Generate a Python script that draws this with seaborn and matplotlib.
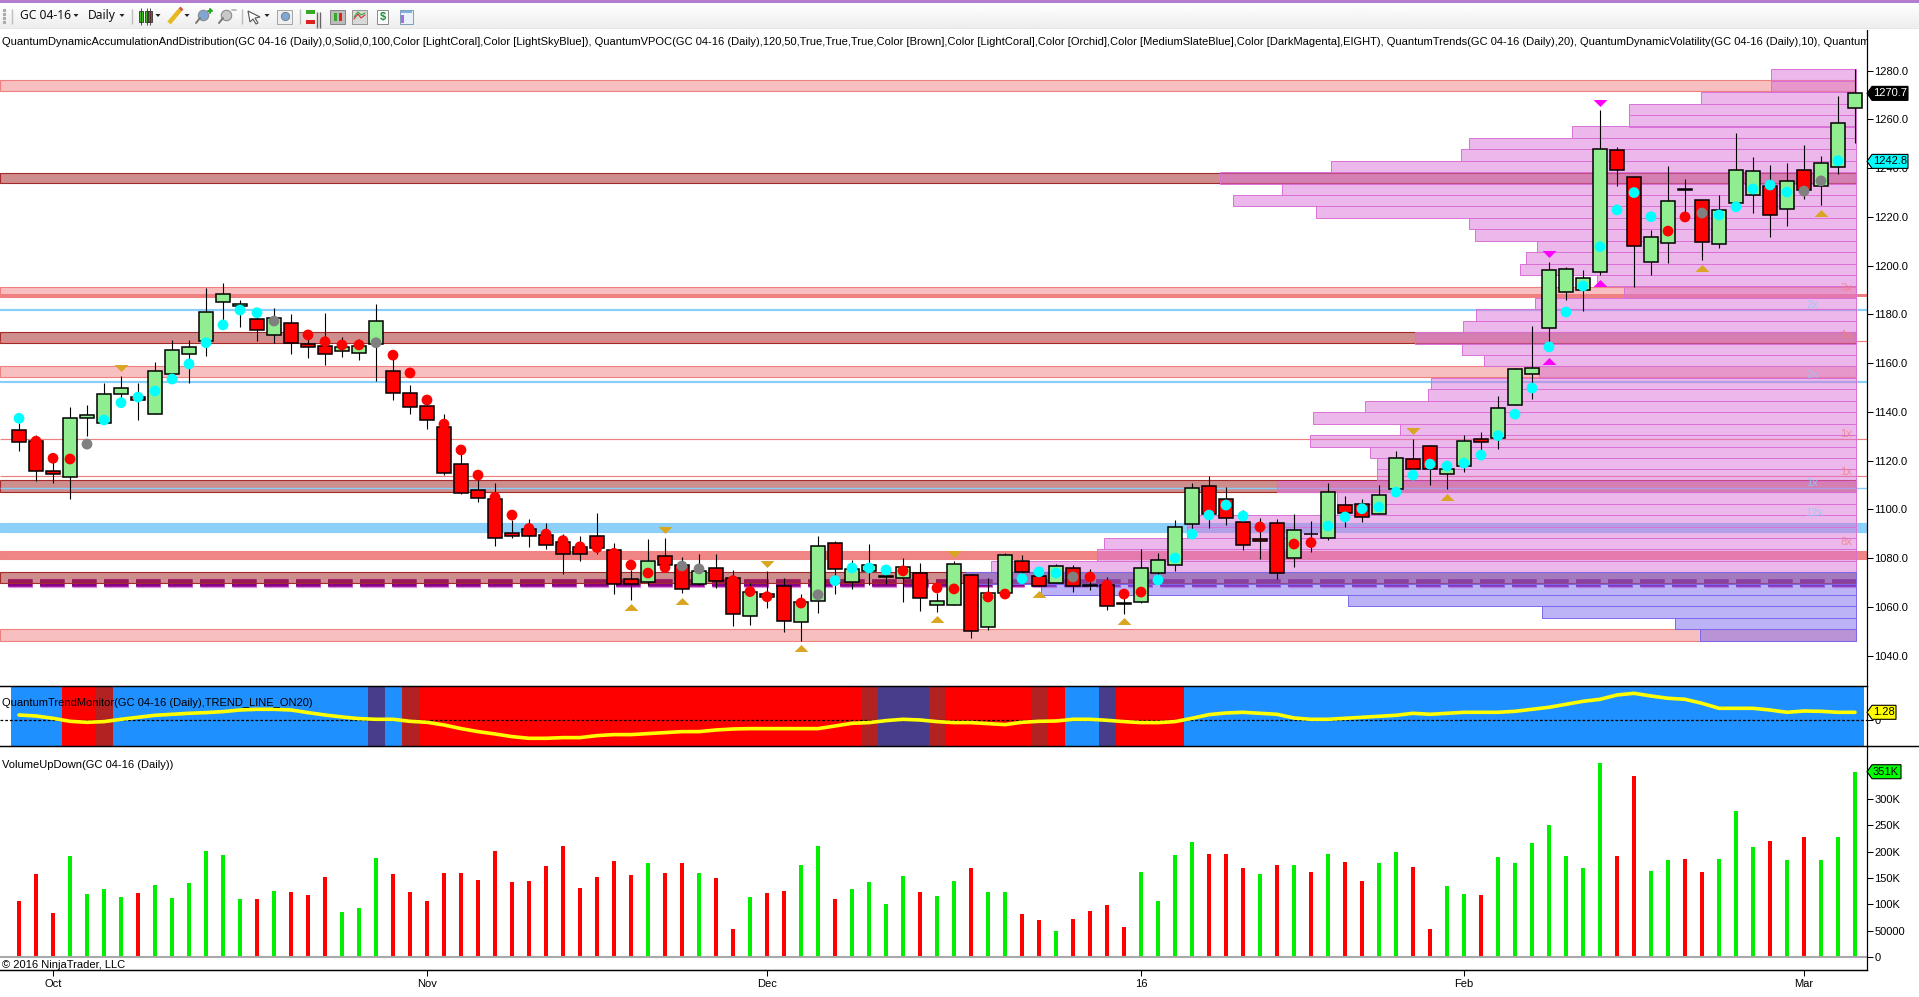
import numpy as np
import pandas as pd
import matplotlib
matplotlib.use("Agg")
import matplotlib.pyplot as plt
from matplotlib.patches import Polygon, Rectangle
import seaborn as sns

# ---------- data ----------
opens = [1132.4,1127.9,1115.6,1113.4,1137.6,1135.6,1147.5,1146.0,1139.0,1155.7,1163.6,1169.0,1185.0,1183.3,1178.0,1171.4,1176.4,1167.9,1167.0,1164.9,
 1164.0,1167.7,1157.0,1147.6,1142.3,1133.7,1118.5,1107.8,1104.1,1090.2,1091.8,1089.4,1086.5,1084.4,1089.0,1083.2,1071.3,1070.1,1080.8,1077.4,
 1069.6,1075.9,1071.8,1056.4,1065.2,1068.5,1054.0,1062.6,1086.1,1070.4,1074.9,1072.7,1072.0,1073.8,1060.7,1061.0,1073.0,1051.9,1065.9,1078.7,
 1072.6,1070.0,1075.9,1069.0,1069.0,1061.5,1062.2,1074.1,1077.4,1094.2,1109.5,1104.2,1094.7,1087.8,1094.3,1080.0,1089.9,1088.1,1101.7,1102.1,
 1098.3,1108.5,1120.6,1125.9,1114.7,1118.0,1128.8,1129.4,1142.7,1155.7,1174.3,1189.4,1189.9,1197.6,1247.3,1236.3,1201.7,1209.5,1231.3,1226.8,
 1209.0,1225.9,1228.9,1232.6,1223.1,1239.1,1232.6,1240.6,1264.6]
highs = [1135.3,1130.5,1119.6,1141.9,1142.8,1151.9,1154.6,1151.9,1160.3,1169.5,1169.5,1190.7,1192.8,1185.9,1181.0,1182.5,1180.2,1172.0,1180.4,1170.6,
 1169.8,1184.3,1163.0,1151.0,1144.9,1139.0,1123.0,1112.8,1110.7,1095.7,1096.0,1094.4,1089.9,1089.1,1098.4,1086.1,1075.0,1087.9,1088.3,1080.6,
 1081.7,1081.7,1075.0,1069.7,1074.8,1071.8,1065.2,1089.1,1087.0,1079.1,1085.8,1076.5,1080.1,1078.0,1065.6,1078.9,1073.5,1071.8,1082.1,1081.2,
 1075.0,1077.6,1077.2,1075.6,1072.3,1067.0,1083.8,1082.1,1095.7,1110.9,1113.6,1109.2,1099.6,1096.4,1096.1,1098.0,1095.3,1110.7,1105.5,1104.1,
 1110.0,1124.0,1128.9,1126.4,1120.0,1130.4,1131.6,1146.4,1157.9,1175.3,1201.5,1199.3,1198.2,1263.9,1248.7,1236.3,1214.7,1240.9,1235.6,1226.8,
 1229.0,1254.3,1244.6,1241.2,1242.1,1249.5,1245.0,1269.6,1280.6]
lows = [1124.0,1111.8,1111.0,1104.4,1130.1,1135.6,1143.0,1136.7,1139.0,1153.0,1152.0,1163.0,1177.5,1175.0,1169.2,1168.1,1163.8,1162.1,1159.2,1162.7,
 1161.3,1152.8,1144.9,1139.1,1133.0,1114.1,1106.3,1103.0,1085.1,1088.3,1084.7,1083.8,1073.6,1079.0,1081.6,1065.4,1063.0,1069.0,1075.8,1065.8,
 1069.0,1067.8,1052.0,1052.7,1059.4,1049.9,1046.2,1057.7,1065.5,1067.4,1069.0,1069.4,1062.2,1058.5,1057.9,1061.0,1047.4,1050.6,1065.9,1070.4,
 1068.7,1070.0,1066.1,1067.0,1058.8,1057.3,1061.8,1069.7,1074.9,1088.8,1092.5,1093.6,1083.4,1079.7,1071.5,1076.4,1082.7,1087.5,1092.9,1094.8,
 1098.3,1108.5,1112.8,1110.0,1108.5,1115.5,1123.7,1124.8,1142.7,1145.3,1166.8,1185.9,1181.6,1196.2,1232.7,1191.3,1196.2,1201.1,1221.5,1202.4,
 1207.3,1225.9,1221.6,1211.9,1216.3,1227.5,1224.9,1237.8,1250.2]
closes = [1127.8,1115.9,1114.7,1137.4,1138.6,1147.2,1149.7,1145.0,1156.6,1165.4,1166.5,1180.9,1188.2,1184.1,1173.8,1178.4,1168.1,1166.8,1163.6,1166.8,
 1167.0,1177.2,1147.9,1142.2,1136.8,1115.1,1106.9,1104.8,1088.4,1089.0,1089.2,1085.5,1081.8,1081.8,1084.2,1069.5,1069.5,1078.7,1077.3,1067.5,
 1074.6,1070.8,1057.3,1066.0,1064.2,1054.4,1061.9,1084.9,1075.7,1075.7,1077.1,1072.4,1076.3,1063.8,1062.3,1077.5,1050.3,1065.6,1081.2,1074.5,
 1068.7,1076.7,1068.7,1068.7,1060.5,1061.1,1075.9,1079.1,1092.7,1108.7,1098.0,1096.6,1085.6,1087.2,1074.1,1091.4,1089.8,1107.0,1098.7,1097.0,
 1105.8,1121.0,1116.4,1116.4,1116.4,1127.9,1127.5,1141.5,1157.5,1157.9,1198.1,1198.5,1194.8,1247.8,1239.4,1208.2,1211.7,1226.4,1231.0,1209.9,
 1222.7,1239.1,1238.7,1220.7,1234.6,1230.9,1242.0,1258.4,1270.7]

dot_price = [1137.4,1128.0,1121.0,1120.7,1126.8,1136.7,1143.8,1146.1,1148.6,1153.5,1159.7,1168.4,1175.7,1181.8,1180.7,1177.3,None,1171.6,1168.8,1167.5,
 1167.5,1168.4,1163.3,1156.0,1144.9,1135.0,1124.4,1114.1,1105.0,1097.7,1092.2,1089.9,1087.2,1084.7,1084.4,1082.0,1077.2,1073.9,1076.2,1076.8,
 1075.6,None,1070.8,1066.3,1064.2,None,1061.6,1065.0,1070.8,1076.0,1076.0,1075.2,1074.8,None,1067.8,1067.4,None,1064.1,1065.3,1071.6,
 1074.4,1073.9,1072.3,1072.3,1069.0,1065.3,1066.1,1071.1,1080.1,1089.9,1097.7,1101.8,1097.3,1092.8,None,1085.8,1086.4,1093.2,1096.9,1100.3,
 1101.0,1107.1,1114.1,1118.6,1117.8,1119.0,1122.3,1130.3,1139.1,1149.8,1166.7,1181.0,1191.7,1207.8,1222.9,1230.0,1220.1,1214.2,1220.0,1221.6,
 1220.8,1224.2,1231.5,1233.1,1230.2,1230.6,1234.8,1243.1,None]
dot_kind = ["cyan","red","red","red","gray","cyan","cyan","cyan","cyan","cyan","cyan","cyan","cyan","cyan","cyan","gray","none","red","red","red",
 "red","gray","red","red","red","red","red","red","red","red","red","red","red","red","red","red","red","red","red","gray",
 "gray","none","red","red","red","none","red","gray","cyan","cyan","cyan","cyan","red","none","red","red","none","red","red","cyan",
 "cyan","cyan","gray","red","red","red","red","cyan","cyan","cyan","cyan","cyan","cyan","red","none","red","red","cyan","cyan","cyan",
 "cyan","cyan","cyan","cyan","cyan","cyan","cyan","cyan","cyan","cyan","cyan","cyan","cyan","cyan","cyan","cyan","cyan","red","red","gray",
 "cyan","cyan","cyan","cyan","cyan","gray","gray","cyan","none"]

gold_down_bar = [6, 38, 44, 55, 82]
gold_down_price = [1157.9, 1091.4, 1077.8, 1081.9, 1132.0]
gold_up_bar = [36, 39, 46, 54, 60, 65, 84, 99, 106]
gold_up_price = [1059.8, 1062.6, 1043.0, 1055.0, 1065.2, 1054.1, 1105.2, 1199.2, 1221.8]
magenta_down_bar = [90, 93]
magenta_down_price = [1204.7, 1266.9]
magenta_up_bar = [90, 93]
magenta_up_price = [1161.1, 1193.0]

volume_k = [106.6,157.6,84,192,120,129,114,122,137,112,141,201,194,110,110,125,124,118,152,86,93,188,158,124,107,160,160,146,201,142,144,173,211,131,152,182,156,178,160,178,160,150,54,114,122,125,175,211,110,129,142,101,154,124,116,144,
 169,124,124,82,71,50,72.5,88,99,57,161,107,194,218,195,195,169,158,175,175,161,195,180,144,178,199,171,54,135,120,118,190,178,216,250,192,169,368,192,343,163,184,186,161,186,277,209,220,184,228,184,228,351]
volume_side = list("RRRGGGGRGGGGGGRGRRRGGG" "RRRRRRRRRRRRRRR" "GRRGRRGRRGGRGGGGRGG"
                   "RGGRRGRRRR" "GGGGRRRGRG" "RGRRGGRRGG" "RGGGGGGGRR" "GGRRGGGRGR" "GGG")
volume_ticks = [0, 50, 100, 150, 200, 250, 300]
volume_tick_labels = ["0", "50000", "100K", "150K", "200K", "250K", "300K"]

trend_value = [.85,.69,.32,-.16,-.32,-.21,.16,.48,.8,.96,1.12,1.23,1.39,1.65,1.76,1.76,1.65,1.23,.85,.53,.27,.16,.16,-.16,-.32,-.75,-1.33,-1.81,-2.19,-2.61,-2.88,-2.88,-2.77,-2.77,-2.45,-2.29,-2.29,-2.13,-1.97,-1.81,-1.81,-1.55,-1.39,-1.33,-1.33,-1.33,-1.33,-1.33,-.91,-.48,-.37,-.05,.16,.05,-.21,-.37,
 -.37,-.53,-.69,-.32,-.16,-.11,.16,.16,0,-.21,-.37,-.37,-.21,.32,.91,1.17,1.28,1.12,.96,.37,.16,.16,.32,.48,.64,.8,1.12,.96,1.12,1.28,1.28,1.28,1.44,1.76,2.08,2.56,3.04,3.36,4.05,4.32,3.89,3.52,3.36,2.72,1.92,1.92,1.92,1.65,1.28,1.49,1.44,1.28,1.28]
trend_state = ("BBBRRK" + "B"*15 + "SBK" + "R"*26 + "K" + "SSS" + "K" + "R"*5 + "K" + "R" + "BB" + "S" + "RRRR" + "B"*40)

profile_top = [1280.6,1275.9,1271.2,1266.5,1261.8,1257.2,1252.5,1247.8,1243.1,1238.4,1233.7,1229.0,1224.3,1219.6,1214.9,1210.3,1205.6,1200.9,1196.2,1191.5,1186.8,1182.1,1177.4,1172.7,1168.0,1163.4,1158.7,1154.0,1149.3,1144.6,1139.9,1135.2,1130.5,1125.8,1121.1,1116.5,1111.8,1107.1,1102.4,1097.7,1093.0,1088.3,1083.6,1078.9,1074.2,1069.6,1064.9,1060.2,1055.5,1050.8]
profile_left = [103.08,103.08,98.97,94.68,94.68,91.38,85.27,84.85,77.2,70.65,74.3,71.4,76.3,85.27,85.66,89.3,88.66,88.3,92.84,94.44,89.15,85.73,84.96,82.1,84.9,86.2,89.4,83.03,82.9,79.15,76.1,81.26,75.97,79.45,79.9,79.9,74.0,77.5,77.5,68.7,68.7,63.8,63.4,57.2,55.7,60.1,78.15,89.6,97.4,98.9]
profile_kind = ["orchid"]*44 + ["slate"]*6

band_top = [1276.0,1238.2,1191.4,1172.7,1158.7,1111.9,1074.2,1050.8]
band_bottom = [1271.5,1233.8,1187.0,1168.1,1154.2,1107.0,1069.7,1046.1]
band_kind = ["coral","brown","coral","brown","coral","brown","brown","coral"]
wide_top = [1094.6, 1083.1]
wide_bottom = [1090.6, 1079.8]
wide_color = ["#87CEFA", "#F08080"]
thin_price = [1188.15,1181.7,1169.2,1152.1,1128.8,1113.6,1108.6]
thin_color = ["#F08080","#87CEFA","#F08080","#87CEFA","#F08080","#F08080","#87CEFA"]
thin_width = [3.0,2.2,1.2,2.2,1.2,1.2,1.4]
dash_price = 1069.65
zone_text = ["3x","2x","1x","2x","1x","1x","1x","12x","8x"]
zone_bar = [107.5,105.5,107.5,105.5,107.5,107.5,105.5,105.6,107.5]
zone_price = [1191,1184,1171.4,1155.2,1131,1115.5,1110.7,1098.7,1086.5]
zone_color = ["#F08080","#87CEFA","#F08080","#87CEFA","#F08080","#F08080","#87CEFA","#87CEFA","#F08080"]

month_bar = [2, 24, 44, 66, 85, 105]
month_label = ["Oct", "Nov", "Dec", "16", "Feb", "Mar"]
price_ticks = [1040,1060,1080,1100,1120,1140,1160,1180,1200,1220,1240,1260,1280]
last_price = 1270.7
last_dot_price = 1242.8
last_trend = 1.28
last_volume = 351

header = ("QuantumDynamicAccumulationAndDistribution(GC 04-16 (Daily),0,Solid,0,100,Color [LightCoral],Color [LightSkyBlue]), "
          "QuantumVPOC(GC 04-16 (Daily),120,50,True,True,True,Color [Brown],Color [LightCoral],Color [Orchid],Color [MediumSlateBlue],Color [DarkMagenta],EIGHT), "
          "QuantumTrends(GC 04-16 (Daily),20), QuantumDynamicVolatility(GC 04-16 (Daily),10), Quantum")

# ---------- style ----------
sns.set_theme(style="white")
plt.rcParams["font.family"] = ["Liberation Sans", "DejaVu Sans"]
plt.rcParams["lines.scale_dashes"] = False
plt.rcParams["font.size"] = 8

W, H = 1919, 997
fig = plt.figure(figsize=(W/100, H/100), dpi=100, facecolor="white")
RIGHT = 1866.5
def axes_px(top, bottom):
    return fig.add_axes([0, 1-bottom/H, RIGHT/W, (bottom-top)/H])
ax = axes_px(30, 685.5)
ax_t = axes_px(685.5, 746)
ax_v = axes_px(746, 970)

bars = np.arange(len(opens))
XMIN, XMAX = (0-19)/17.0, (RIGHT-19)/17.0
BAR_END = 108.03
for a in (ax, ax_t, ax_v):
    a.set_xlim(XMIN, XMAX)
    a.yaxis.tick_right()
    a.tick_params(axis="y", length=4.3, width=.75, pad=1.5, labelsize=8, colors="black", right=True, left=False)
    a.tick_params(axis="x", length=0)
    a.set_xticks([])
    for s in a.spines.values():
        s.set_color("black"); s.set_linewidth(1.05)
    a.spines["left"].set_visible(False)
    a.spines["bottom"].set_visible(False)
    a.spines["right"].set_linewidth(.8)
ax.spines["top"].set_visible(False)

# ---------- main price panel ----------
ax.set_ylim(1280-(685.5-70.7)/2.4375, 1280+(70.7-30)/2.4375)
ax.set_yticks(price_ticks)
ax.set_yticklabels([f"{p:.1f}" for p in price_ticks])

ax.plot([(7.6-19)/17.0, BAR_END], [dash_price]*2, color="#DA70D6", lw=6.6, alpha=.8,
        ls=(0,(17.64,5.4)), dash_capstyle="butt", zorder=1)
ax.plot([(7.6-19)/17.0, BAR_END], [dash_price]*2, color="#8B008B", lw=5.4,
        ls=(0,(17.64,5.4)), dash_capstyle="butt", zorder=1.1)

band_style = {"coral": ((0.941,0.502,0.502,0.5), "#F08080"), "brown": ((0.647,0.165,0.165,0.53), "#A52A2A")}
for t, b, k in zip(band_top, band_bottom, band_kind):
    f, e = band_style[k]
    ax.barh((t+b)/2, BAR_END-XMIN, height=t-b, left=XMIN, color=f, edgecolor=e, linewidth=.8, zorder=2)
for t, b, c in zip(wide_top, wide_bottom, wide_color):
    ax.barh((t+b)/2, XMAX-XMIN, height=t-b, left=XMIN, color=c, edgecolor=c, alpha=.95, linewidth=.8, zorder=2)
for p, c, w in zip(thin_price, thin_color, thin_width):
    ax.hlines(p, XMIN, XMAX, color=c, lw=w*.72, zorder=2.2)

prof_style = {"orchid": ((0.855,0.439,0.839,0.5), "#DA70D6"), "slate": ((0.482,0.408,0.933,0.5), "#7B68EE")}
step = profile_top[0]-profile_top[1]
for t, l, k in zip(profile_top, profile_left, profile_kind):
    f, e = prof_style[k]
    ax.barh(t-step/2, BAR_END-l, height=step, left=l, color=f, edgecolor=e, linewidth=.7, zorder=3)

for i, o, h, l, c in zip(bars, opens, highs, lows, closes):
    ax.vlines(i, l, h, color="black", lw=.8, zorder=4)
    col = "#90EE90" if c >= o else "#FF0000"
    ax.bar(i, abs(c-o), bottom=min(o, c), width=.84, color=col, edgecolor="black", linewidth=1.1, zorder=4.2)

dots = pd.DataFrame({"bar": bars, "price": dot_price, "kind": dot_kind}).query("kind != 'none'")
sns.scatterplot(data=dots, x="bar", y="price", hue="kind", palette={"cyan":"#00FFFF","red":"#FF0000","gray":"#808080"},
                s=60, linewidth=0, legend=False, ax=ax, zorder=5)
tri_down = [(-1,.5),(1,.5),(0,-.5)]
tri_up = [(-1,-.5),(1,-.5),(0,.5)]
ax.scatter(gold_down_bar, gold_down_price, marker=tri_down, s=100, color="#DAA520", linewidth=0, zorder=5)
ax.scatter(gold_up_bar, gold_up_price, marker=tri_up, s=100, color="#DAA520", linewidth=0, zorder=5)
ax.scatter(magenta_down_bar, magenta_down_price, marker=tri_down, s=100, color="#FF00FF", linewidth=0, zorder=5)
ax.scatter(magenta_up_bar, magenta_up_price, marker=tri_up, s=100, color="#FF00FF", linewidth=0, zorder=5)
for tx, bx, py, cc in zip(zone_text, zone_bar, zone_price, zone_color):
    ax.text(bx, py, tx, color=cc, alpha=.8, fontsize=8, ha="center", va="center", zorder=3.5)
ax.set_xlabel(""); ax.set_ylabel("")

hdr = ax.text(2/RIGHT, 1-(42-30)/655.5, header, transform=ax.transAxes, fontsize=8, color="black",
              ha="left", va="center", clip_on=True, zorder=10)

# ---------- trend panel ----------
ax_t.set_ylim(-(746-720.3)/6.25, (720.3-685.5)/6.25)
ax_t.set_yticks([0]); ax_t.set_yticklabels(["0"])
state_color = {"B":"#1E90FF","R":"#FF0000","K":"#B22222","S":"#483D8B"}
ax_t.bar(bars, [ax_t.get_ylim()[1]-ax_t.get_ylim()[0]]*len(bars), bottom=ax_t.get_ylim()[0], width=1.0,
         color=[state_color[s] for s in trend_state], linewidth=0, zorder=1)
ax_t.axhline(0, color="black", lw=.9, ls=(0,(2,1.4)), zorder=2)
sns.lineplot(x=bars, y=trend_value, color="#FFFF00", lw=2.6, ax=ax_t, zorder=3, errorbar=None)
ax_t.text(2/RIGHT, 1-(703.5-685.5)/60.5, "QuantumTrendMonitor(GC 04-16 (Daily),TREND_LINE_ON20)", transform=ax_t.transAxes,
          fontsize=8, color="black", ha="left", va="center", zorder=5)
ax_t.set_xlim(XMIN, XMAX)

# ---------- volume panel ----------
ax_v.set_ylim(-(970-957.3)/0.5287, (957.3-746)/0.5287)
vol = pd.DataFrame({"bar": bars, "volume": volume_k, "side": volume_side})
sns.barplot(data=vol, x="bar", y="volume", hue="side", palette={"R":"#FF0000","G":"#00EE00"}, native_scale=True,
            dodge=False, width=.18, linewidth=0, saturation=1, legend=False, ax=ax_v, zorder=3)
ax_v.axhline(0, color="#A9A9A9", lw=1.5, zorder=4)
ax_v.set_xlim(XMIN, XMAX)
ax_v.set_xlabel(""); ax_v.set_ylabel("")
ax_v.set_yticks(volume_ticks); ax_v.set_yticklabels(volume_tick_labels)
ax_v.set_xticks(month_bar); ax_v.set_xticklabels(month_label)
ax_v.tick_params(axis="x", length=4.3, width=.75, pad=2.5, labelsize=8, colors="black", bottom=True)
ax_v.spines["bottom"].set_visible(True)
ax_v.text(2/RIGHT, 1-(764.5-746)/224, "VolumeUpDown(GC 04-16 (Daily))", transform=ax_v.transAxes, fontsize=8, ha="left", va="center", color="black")
ax_v.text(2/RIGHT, 1-(964.5-746)/224, "\u00a9 2016 NinjaTrader, LLC", transform=ax_v.transAxes, fontsize=8, ha="left", va="center", color="black")

# ---------- overlay in pixels: chrome and value tags ----------
fig.canvas.draw()
ov = fig.add_axes([0, 0, 1, 1], zorder=20)
ov.patch.set_alpha(0)
ov.axis("off")
grad = np.linspace(1.0, 0.93, 30)[:, None]
ov.imshow(grad, extent=(0, W, 28, 3), cmap="gray", vmin=0, vmax=1, aspect="auto", interpolation="bilinear")
ov.set_xlim(0, W); ov.set_ylim(H, 0)
ov.add_patch(Rectangle((0, 0), W, 3.5, color="#B57BCF", lw=0))
ov.add_patch(Rectangle((0, 28), W, 1.2, color="#E6E6E6", lw=0))
ov.hlines([746], RIGHT, W, color="black", lw=1.05)
ov.vlines(RIGHT, 30, 970, color="black", lw=.8)
for x in (12, 132, 242, 300):
    ov.vlines(x, 9, 24, color="#BDBDBD", lw=1)
for yy in (10, 14, 18, 22):
    ov.plot([3.5], [yy], marker="s", ms=1.3, color="#AAAAAA")
ov.text(20, 15.5, "GC 04-16", fontsize=8.7, fontfamily="Noto Sans", color="#111111", va="center")
ov.text(88, 15.5, "Daily", fontsize=8.7, fontfamily="Noto Sans", color="#111111", va="center")
for x in (76, 122, 158, 187, 267):
    ov.add_patch(Polygon([(x-2.5, 14), (x+2.5, 14), (x, 17)], color="#222222", lw=0))
# candle icon
for x, c in ((141, "#44BB22"), (147, "#44BB22"), (150, "#E03020")):
    ov.add_patch(Rectangle((x-2, 11), 4, 11, facecolor=c, edgecolor="#333333", lw=.6))
    ov.vlines(x, 8, 25, color="#333333", lw=.6)
# pencil
ov.plot([169, 180], [23, 10], color="#E8B820", lw=3.2, solid_capstyle="butt")
ov.plot([180, 182], [10, 8], color="#D06040", lw=3.0, solid_capstyle="butt")
# zoom glasses
for x, c in ((203, "#7FA7D6"), (226, "#C8C8C8")):
    ov.plot([x], [15], marker="o", ms=7.5, mfc=c, mec="#8A8A8A", mew=.8)
    ov.plot([x-7, x-3], [23, 18], color="#777777", lw=1.4)
ov.plot([208, 212, 210, 210], [11, 11, 9, 13], color="#22AA22", lw=1.4)
ov.plot([232, 236], [10.5, 10.5], color="#BBBBBB", lw=1.4)
ov.add_patch(Polygon([(248, 11), (260, 17), (255, 18), (258, 23), (256, 24), (253, 19), (250, 22)], facecolor="white", edgecolor="#555555", lw=.8))
ov.add_patch(Rectangle((277, 10), 15, 14, facecolor="#EFEFEF", edgecolor="#999999", lw=.6))
ov.plot([285], [16.5], marker="o", ms=6, mfc="#7FA7D6", mec="#777777", mew=.6)
# layout icons
ov.add_patch(Rectangle((306, 10), 9, 4, color="#33AA22", lw=0)); ov.add_patch(Rectangle((306, 20), 9, 4, color="#DD2222", lw=0))
ov.vlines([317, 320], 12, 28, color="#666666", lw=1)
ov.add_patch(Rectangle((330, 10), 15, 14, facecolor="#BBBBBB", edgecolor="#777777", lw=.6))
for x, c in ((335, "#33AA22"), (340, "#DD2222")):
    ov.add_patch(Rectangle((x-1.5, 13), 3, 8, color=c, lw=0))
ov.add_patch(Rectangle((352, 10), 15, 14, facecolor="#D8D8D8", edgecolor="#888888", lw=.6))
ov.plot([354, 358, 361, 365], [19, 14, 18, 15], color="#CC3333", lw=.8)
ov.plot([354, 358, 361, 365], [17, 12, 15, 13], color="#33AA33", lw=.8)
ov.add_patch(Rectangle((377, 10), 11, 14, facecolor="white", edgecolor="#888888", lw=.7))
ov.text(382.5, 17, "$", color="#1E8E3E", fontsize=8, ha="center", va="center", fontweight="bold")
ov.add_patch(Rectangle((400, 10), 13, 14, facecolor="#EAF1FA", edgecolor="#7F9DB9", lw=.7))
ov.add_patch(Rectangle((401, 11), 11, 2.5, color="#7FB0E0", lw=0))
ov.add_patch(Rectangle((401, 15), 3, 8, color="#A070E0", lw=0))

def tag(panel, value, text, face, tc, x_end):
    _, yy = panel.transData.transform((0, value))
    yy = H - yy
    x0 = RIGHT + .5
    ov.add_patch(Polygon([(x0, yy), (x0+5, yy-7), (x_end, yy-7), (x_end, yy+7), (x0+5, yy+7)],
                         facecolor=face, edgecolor="black", lw=.8, zorder=3))
    ov.text(x0+6, yy, text, fontsize=8, color=tc, va="center", ha="left", zorder=4)

tag(ax, last_price, f"{last_price:.1f}", "black", "white", 1908)
tag(ax, last_dot_price, f"{last_dot_price:.1f}", "#00FFFF", "black", 1908)
tag(ax_t, last_trend, f"{last_trend:.2f}", "#FFFF00", "black", 1896)
tag(ax_v, last_volume, f"{last_volume}K", "#00FF00", "black", 1901)

fig.savefig("out.png", dpi=100, facecolor="white")
